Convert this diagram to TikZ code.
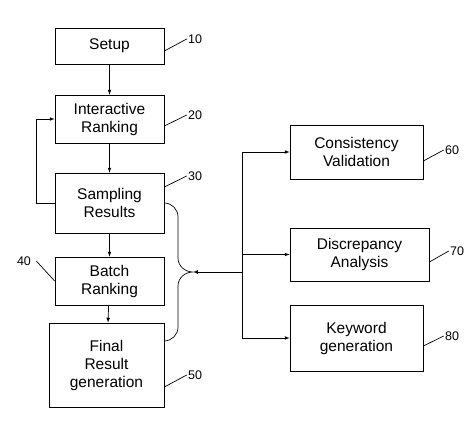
\documentclass[tikz,border=0pt]{standalone}
\usepackage{fontspec}
\setmainfont{Liberation Sans}
\begin{document}
\begin{tikzpicture}
  [x=1pt,y=-1pt,>=latex,
    every path/.style={line width=0.7pt},
    box/.style={draw,align=center,inner sep=0pt,font=\fontsize{15.5}{18}\selectfont},
    num/.style={inner sep=1pt,font=\fontsize{12.5}{14}\selectfont},
  ]
  \useasboundingbox (0,0) rectangle (474,447);
  % left column
  \node[box,minimum width=109pt,minimum height=36pt] (setup) at (109.5,46) {Setup};
  \node[box,minimum width=109pt,minimum height=48pt] (inter) at (109.5,119) {Interactive\\Ranking};
  \node[box,minimum width=109pt,minimum height=60pt] (samp) at (109.5,203) {Sampling\\Results};
  \node[box,minimum width=109pt,minimum height=48pt] (batch) at (109.5,281) {Batch\\Ranking};
  \node[box,minimum width=115pt,minimum height=84pt] (final) at (106.5,365) {Final\\Result\\generation};
  % right column
  \node[box,minimum width=133pt,minimum height=54pt] (cons) at (356.5,152) {Consistency\\Validation};
  \node[box,minimum width=139pt,minimum height=53pt] (disc) at (359.5,254.5) {Discrepancy\\Analysis};
  \node[box,minimum width=133pt,minimum height=66pt] (key) at (356.5,338) {Keyword\\generation};
  % reference numerals
  \node[num] (n10) at (195,39) {10};
  \node[num] (n20) at (195,115) {20};
  \node[num] (n30) at (195,176) {30};
  \node[num] (n40) at (24,261) {40};
  \node[num] (n50) at (195,375) {50};
  \node[num] (n60) at (452,150) {60};
  \node[num] (n70) at (457,251) {70};
  \node[num] (n80) at (452,336) {80};
  \draw ([yshift=-5pt]setup.east) -- (n10.west);
  \draw ([yshift=-7pt]inter.east) -- (n20.west);
  \draw ([yshift=16pt]samp.east) -- (n30.west);
  \draw ([xshift=4pt]n40.east) -- (batch.west);
  \draw ([yshift=-22pt]final.east) -- (n50.west);
  \draw ([yshift=-9pt]cons.east) -- (n60.west);
  \draw ([yshift=-7.5pt]disc.east) -- (n70.west);
  \draw ([yshift=-8pt]key.east) -- (n80.west);
  % flow
  \draw[->] (setup) -- (inter);
  \draw[->] (inter) -- (samp);
  \draw[->] (samp) -- (batch);
  \draw[->] (batch) -- (final);
  \draw[->] (samp.west) -- ++(-18,0) |- (inter.west);
  % brace and bus
  \coordinate (tip) at (193,272);
  \coordinate (bus) at (242,272);
  \coordinate (low) at (164,341);
  \draw (samp.east) to[out=0,in=90] (178,217) -- (178,258)
    to[out=-90,in=180] (tip) to[out=180,in=90] (178,286) -- (178,327)
    to[out=-90,in=0] (low);
  \draw[->] (bus) -- (tip);
  \draw[->] (bus) |- (cons.west);
  \draw[->] (bus |- disc.west) -- (disc.west);
  \draw[->] (bus) |- (key.west);
\end{tikzpicture}
\end{document}
